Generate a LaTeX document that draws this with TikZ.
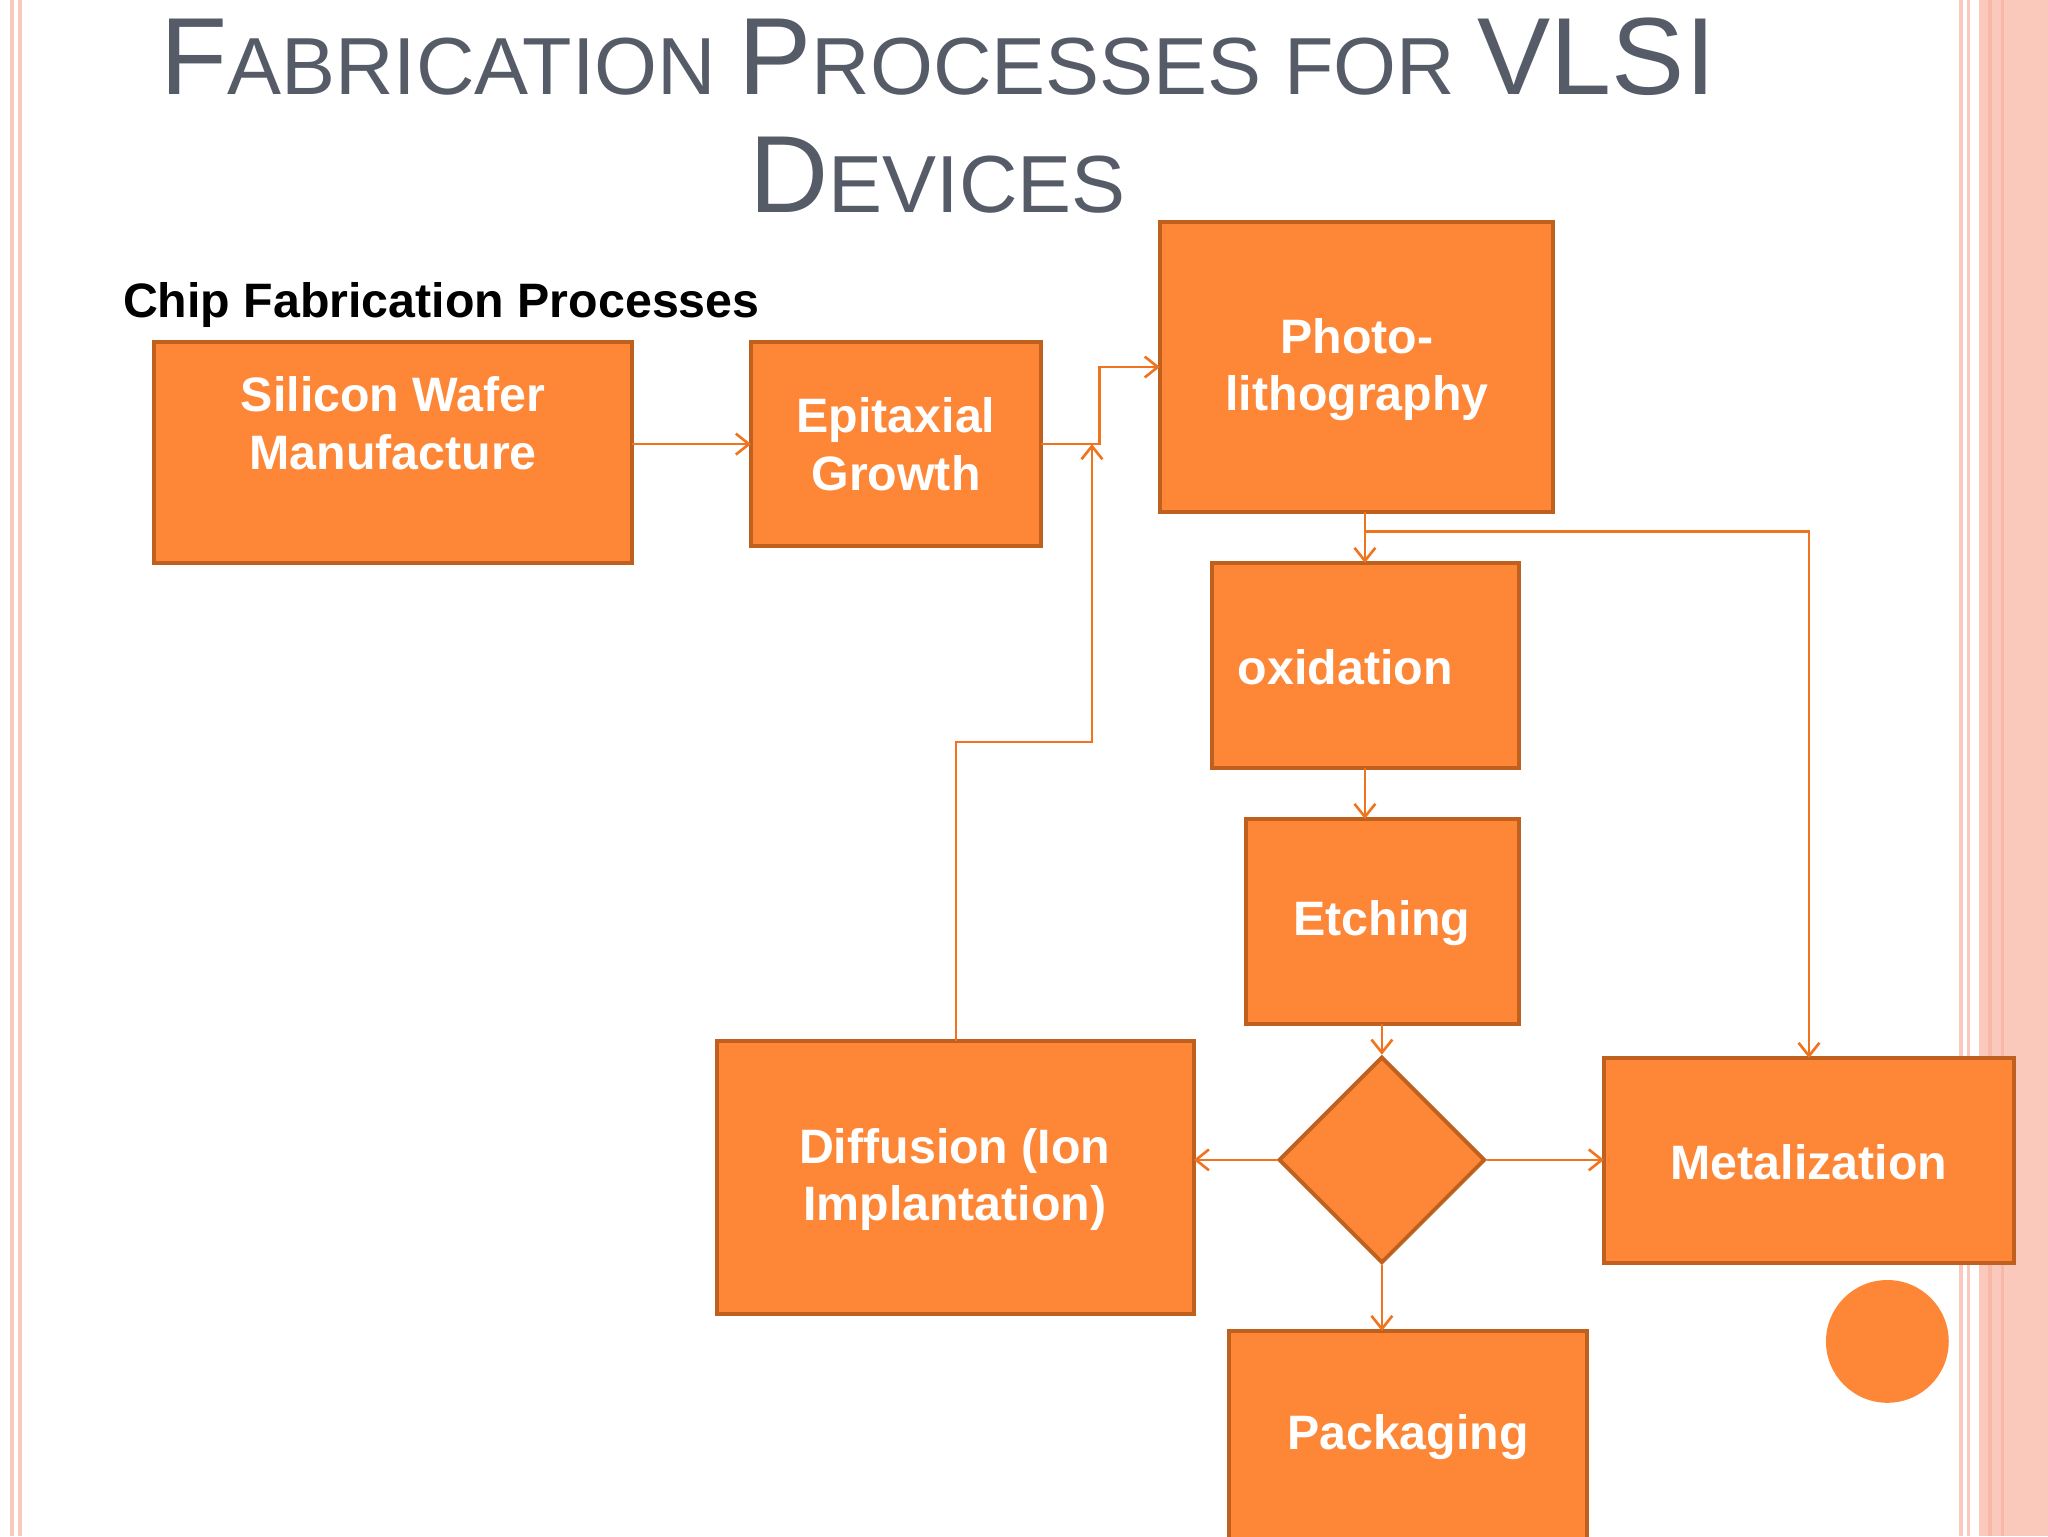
\documentclass[tikz,border=0pt]{standalone}
\usepackage{fontspec}
\setmainfont{Liberation Sans}
\usetikzlibrary{arrows.meta,shapes.geometric}
\definecolor{bfill}{HTML}{FD8637}
\definecolor{bdraw}{HTML}{C0601E}
\definecolor{lnk}{HTML}{F0731E}
\definecolor{ttl}{HTML}{565B68}
\definecolor{pinkA}{HTML}{F7B8A8}
\definecolor{pinkB}{HTML}{FBC9BB}
\begin{document}
\begin{tikzpicture}[x=1pt,y=-1pt,
 box/.style={draw=bdraw,fill=bfill,line width=3pt},
 lbl/.style={text=white,font=\fontsize{37}{44}\selectfont\bfseries,align=center},
 con/.style={draw=lnk,line width=2pt},
 arr/.style={con,-{Straight Barb[length=10pt,width=16pt,line width=2pt]}}]
\useasboundingbox (0,0) rectangle (1568,1176);
\fill[white] (0,0) rectangle (1568,1176);
% borders
\fill[pinkB] (8,0) rectangle (11,1176);
\fill[pinkB] (14,0) rectangle (17,1176);
\fill[pinkB] (1500,0) rectangle (1503,1176);
\fill[pinkB] (1506,0) rectangle (1508,1176);
\fill[pinkB] (1515,0) rectangle (1568,1176);
\fill[pinkA] (1522,0) rectangle (1525,1176);
\fill[pinkA] (1532,0) rectangle (1534,1176);
% title
\node[text=ttl,anchor=base] (t1) at (718,72) {\fontsize{84}{90}\selectfont F\fontsize{62}{70}\selectfont ABRICATION \fontsize{84}{90}\selectfont P\fontsize{62}{70}\selectfont ROCESSES FOR \fontsize{84}{90}\selectfont VLSI};
\node[text=ttl,anchor=base] (t2) at (718,163) {\fontsize{84}{90}\selectfont D\fontsize{62}{70}\selectfont EVICES};
\node[anchor=base west,inner sep=0,font=\fontsize{37}{44}\selectfont\bfseries] (sub) at (94,243) {Chip Fabrication Processes};
% boxes
\draw[box] (118,262) rectangle (484,431);
\node[lbl] (sil) at (301,324) {Silicon Wafer\\Manufacture};
\coordinate (silR) at (484,340);
\draw[box] (575,262) rectangle (797,418);
\node[lbl] (epi) at (686,340) {Epitaxial\\Growth};
\draw[box] (888,170) rectangle (1189,392);
\node[lbl] (pho) at (1039,283) {Photo-\\lithography};
\draw[box] (928,431) rectangle (1163,588);
\node[lbl] (oxi) at (1030,511) {oxidation};
\draw[box] (954,627) rectangle (1163,784);
\node[lbl] (etc) at (1058,707) {Etching};
\node[diamond,box,minimum width=158pt,minimum height=158pt,inner sep=0] (dia) at (1058,888) {};
\draw[box] (549,797) rectangle (914,1006);
\node[lbl] (dif) at (731,903) {Diffusion (Ion\\Implantation)};
\draw[box] (1228,810) rectangle (1542,967);
\node[lbl] (met) at (1385,890) {Metalization};
\draw[box] (941,1019) rectangle (1215,1190);
\node[lbl] (pac) at (1078,1100) {Packaging};
\fill[bfill] (1445,1027) circle (47);
% connectors
\draw[arr] (silR) -- (575,340);
\draw[arr] (797,340) -- (842,340) -- (842,281) -- (888,281);
\draw[arr] (732,797) -- (732,568) -- (836,568) -- (836,340);
\draw[arr] (1045,392) -- (1045,431);
\draw[arr] (1045,407) -- (1385,407) -- (1385,810);
\draw[arr] (1045,588) -- (1045,627);
\draw[arr] (1058,784) -- (dia.north);
\draw[arr] (dia.west) -- (914,888);
\draw[arr] (dia.east) -- (1228,888);
\draw[arr] (dia.south) -- (1058,1019);
\end{tikzpicture}
\end{document}
